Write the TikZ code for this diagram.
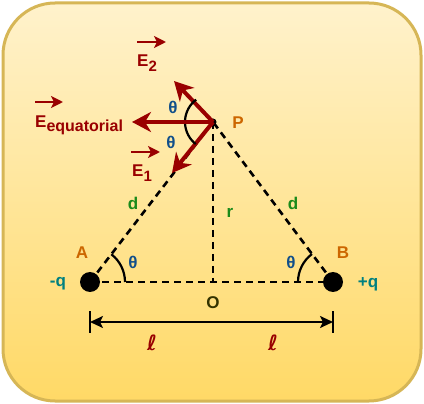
\documentclass[tikz,border=0pt]{standalone}
\usepackage{fontspec}
\setmainfont{Liberation Sans}
\newfontfamily\dejafont{DejaVu Sans}
\usetikzlibrary{arrows.meta}
\definecolor{dred}{HTML}{990000}
\definecolor{orng}{HTML}{CC6600}
\definecolor{tealq}{HTML}{008080}
\definecolor{grn}{HTML}{1A8A1A}
\definecolor{thblue}{HTML}{114F8A}
\definecolor{olv}{HTML}{333300}
\definecolor{bordc}{HTML}{D6B656}
\definecolor{topc}{HTML}{FFF2CC}
\definecolor{botc}{HTML}{FFD966}
\tikzset{
  lbl/.style={font=\fontsize{17}{20}\selectfont\bfseries, inner sep=0pt},
  dsh/.style={line width=2.6pt, dash pattern=on 7pt off 5pt},
  efield/.style={dred, line width=4pt, -{Stealth[length=19pt,width=20pt,inset=6pt]}},
  vecbar/.style={dred, line width=2.8pt, -{Stealth[length=12pt,width=12pt,inset=3pt]}},
  charge/.style={circle, fill=black, minimum size=20pt, inner sep=0pt},
  arcl/.style={line width=2.2pt},
}
\begin{document}
\begin{tikzpicture}[x=1pt,y=-1pt]
\useasboundingbox (0,0) rectangle (424,404);
\shade[top color=topc, bottom color=botc, draw=bordc, line width=3pt, rounded corners=52pt]
  (3,3) rectangle (421,401);

\node[charge] (A) at (90,282) {};
\node[charge] (B) at (333,282) {};
\node[circle, fill=black, minimum size=7pt, inner sep=0pt] (P) at (213,122) {};
\coordinate (Pc) at (213,122);
\coordinate (O) at (213,282);

% dashed triangle
\draw[dsh] (A.center) -- (Pc);
\draw[dsh] (B.center) -- (Pc);
\draw[dsh] (A.center) -- (B.center);
\draw[dsh] (Pc) -- (O);

% angle arcs at A and B
\draw[arcl] ([shift={(0:35pt)}]A.center) arc[start angle=0, end angle=52.4, radius=35pt];
\draw[arcl] ([shift={(180:35pt)}]B.center) arc[start angle=180, end angle=126.9, radius=35pt];

% field arrows
\coordinate (E2tip) at (174,81);
\coordinate (E1tip) at (172,173);
\coordinate (Eqtip) at (132,122);
\draw[efield] (Pc) -- (E2tip);
\draw[efield] (Pc) -- (Eqtip);
\draw[efield] (Pc) -- (E1tip);

% angle arcs at P
\draw[arcl] ([shift={(127:28pt)}]Pc) arc[start angle=127, end angle=176, radius=28pt];
\draw[arcl] ([shift={(184:28pt)}]Pc) arc[start angle=184, end angle=232, radius=28pt];

% labels
\node[lbl, text=orng] (Al) at (82,253) {A};
\node[lbl, text=orng] (Bl) at (343,253) {B};
\node[lbl, text=orng] (Pl) at (238,123) {P};
\node[lbl, text=tealq] (mq) at (58,284) {-q};
\node[lbl, text=tealq] (pq) at (368,284) {+q};
\node[lbl, text=grn] (d1) at (133,203) {d};
\node[lbl, text=grn] (d2) at (293,203) {d};
\node[lbl, text=grn] (r) at (230,213) {r};
\node[lbl, text=olv] (Ol) at (213,303) {O};
\node[lbl, text=thblue] (thA) at (133,262) {θ};
\node[lbl, text=thblue] (thB) at (291,262) {θ};
\node[lbl, text=thblue] (thP1) at (173,107) {θ};
\node[lbl, text=thblue] (thP2) at (171,142) {θ};

% vector labels
\node[lbl, text=dred, anchor=base west] (E2l) at (137,67) {E\raisebox{-5pt}{\fontsize{15}{15}\selectfont 2}};
\node[lbl, text=dred, anchor=base west] (Eql) at (35,128) {E\raisebox{-4pt}{\fontsize{16}{16}\selectfont equatorial}};
\node[lbl, text=dred, anchor=base west] (E1l) at (132,177) {E\raisebox{-5pt}{\fontsize{15}{15}\selectfont 1}};
\draw[vecbar] (137,42) -- (166,42);
\draw[vecbar] (35,102) -- (63,102);
\draw[vecbar] (131,152) -- (160,152);

% dimension
\coordinate (DL) at (90,322);
\coordinate (DR) at (333,322);
\draw[line width=2.2pt, {Stealth[length=13pt,width=12pt,inset=3pt]}-{Stealth[length=13pt,width=12pt,inset=3pt]}] (DL) -- (DR);
\draw[line width=2.6pt] (90,311) -- (90,333);
\draw[line width=2.6pt] (333,311) -- (333,333);
\node[lbl, text=dred] (l1) at (152,343) {\fontsize{21}{24}\selectfont\dejafont\bfseries\itshape ℓ};
\node[lbl, text=dred] (l2) at (273,343) {\fontsize{21}{24}\selectfont\dejafont\bfseries\itshape ℓ};
\end{tikzpicture}
\end{document}
